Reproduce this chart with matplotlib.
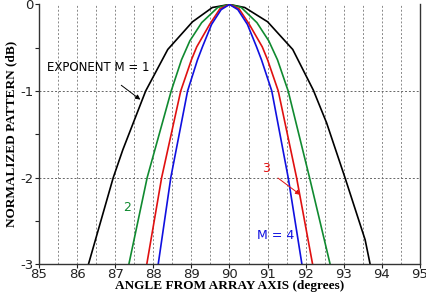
import numpy as np
import matplotlib.pyplot as plt

# exponent M = 1 (black)
ang_m1 = [86.3, 86.95, 87.2, 87.8, 88.38, 89.03, 89.55, 90.0, 90.4, 91.0, 91.66, 92.2, 92.55, 93.03, 93.56, 93.69]
db_m1 = [-3.0, -2.0, -1.68, -1.0, -0.52, -0.2, -0.035, 0.0, -0.035, -0.2, -0.52, -0.99, -1.37, -2.0, -2.72, -3.0]

# M = 2 (green)
ang_m2 = [87.36, 87.84, 88.47, 88.74, 88.96, 89.27, 89.69, 90.0, 90.31, 90.72, 91.03, 91.26, 91.54, 92.1, 92.64]
db_m2 = [-3.0, -2.0, -1.0, -0.64, -0.42, -0.21, -0.035, 0.0, -0.035, -0.21, -0.42, -0.64, -1.0, -2.0, -3.0]

# M = 3 (red)
ang_m3 = [87.83, 88.22, 88.72, 89.0, 89.14, 89.48, 89.75, 90.0, 90.25, 90.52, 90.86, 91.0, 91.28, 91.76, 92.18]
db_m3 = [-3.0, -2.0, -1.0, -0.64, -0.49, -0.23, -0.05, 0.0, -0.05, -0.23, -0.49, -0.64, -1.0, -2.0, -3.0]

# M = 4 (blue)
ang_m4 = [88.13, 88.46, 88.9, 89.16, 89.29, 89.53, 89.78, 90.0, 90.22, 90.47, 90.71, 90.84, 91.11, 91.54, 91.9]
db_m4 = [-3.0, -2.0, -1.0, -0.64, -0.49, -0.23, -0.06, 0.0, -0.06, -0.23, -0.49, -0.64, -1.0, -2.0, -3.0]

xticks = list(range(85, 96))
yticks = [0, -1, -2, -3]

fig = plt.figure(figsize=(4.27, 2.98), dpi=100)
ax = fig.add_axes([0.0913, 0.114, 0.8923, 0.871])

ax.plot(ang_m1, db_m1, color='black', lw=1.2)
ax.plot(ang_m2, db_m2, color='#108a30', lw=1.2)
ax.plot(ang_m3, db_m3, color='#e01010', lw=1.2)
ax.plot(ang_m4, db_m4, color='#1010e0', lw=1.2)

ax.set_xlim(85, 95)
ax.set_ylim(-3, 0)
ax.set_xticks(xticks)
ax.set_xticks(np.arange(85.5, 95, 1.0), minor=True)
ax.set_yticks(yticks)
ax.set_yticks([-0.5, -1.5, -2.5], minor=True)
ax.set_yticklabels(['0', '-1', '-2', '-3'])

for v in np.arange(85.5, 95, 0.5):
    ax.axvline(v, color='#888888', lw=0.7, ls=(0, (2, 2)), zorder=0)
for v in [-1, -2]:
    ax.axhline(v, color='#666666', lw=0.7, ls=(0, (2, 2)), zorder=0)

ax.spines['top'].set_visible(False)
for s in ['left', 'right', 'bottom']:
    ax.spines[s].set_color('#333333')
    ax.spines[s].set_linewidth(1.0)

ax.tick_params(which='both', direction='out', length=3, width=0.8,
               labelsize=9.5, colors='#222222', pad=1)
ax.tick_params(axis='x', which='minor', length=0)
ax.tick_params(axis='x', pad=0)

ax.set_xlabel('ANGLE FROM ARRAY AXIS (degrees)', family='Liberation Serif',
              fontweight='bold', fontsize=9.5, labelpad=-1)
ax.set_ylabel('NORMALIZED PATTERN (dB)', family='Liberation Serif',
              fontweight='bold', fontsize=9.5, labelpad=2)

ax.annotate('EXPONENT M = 1', xy=(87.66, -1.1), xytext=(85.2, -0.73),
            fontsize=8.5, va='center', ha='left',
            arrowprops=dict(arrowstyle='-|>', color='black', lw=0.7,
                            mutation_scale=7, shrinkA=10, shrinkB=0))
ax.text(87.3, -2.35, '2', color='#108a30', fontsize=9, ha='center', va='center')
ax.annotate('3', xy=(91.86, -2.2), xytext=(90.95, -1.9),
            color='#e01010', fontsize=9, ha='center', va='center',
            arrowprops=dict(arrowstyle='-|>', color='#e01010', lw=0.7,
                            mutation_scale=7, shrinkA=5, shrinkB=0))
ax.text(91.2, -2.67, 'M = 4', color='#1010e0', fontsize=9, ha='center', va='center')

fig.savefig('out.png', dpi=100)
